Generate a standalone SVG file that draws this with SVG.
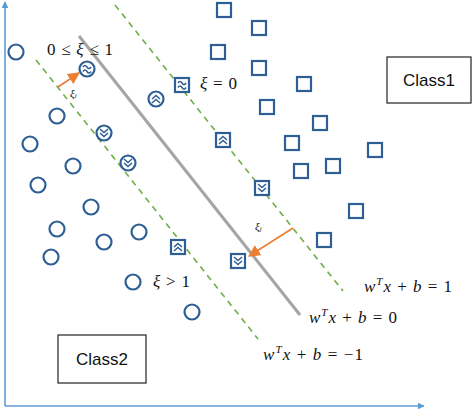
<svg xmlns="http://www.w3.org/2000/svg" width="474" height="413" viewBox="0 0 474 413">
<defs>
<style>
.circ{fill:#fff;stroke:#2e5f94;stroke-width:2.2}
.sq{fill:#fff;stroke:#2e5f94;stroke-width:2.2}
.hs{fill:#fff;stroke:#2e5f94;stroke-width:2.2}
.ch{fill:none;stroke:#2e5f94;stroke-width:1.5}
.math{font-family:"Liberation Serif","DejaVu Serif",serif;font-size:17px;fill:#111}
.it{font-style:italic}
.cls{font-family:"Liberation Sans",Arial,sans-serif;font-size:17px;fill:#111;text-anchor:middle}
.box{fill:#fff;stroke:#222;stroke-width:1.2}
.dash{stroke:#70ad47;stroke-width:1.6;stroke-dasharray:6 5;fill:none}
.axis{stroke:#5b9bd5;stroke-width:1.6;fill:none}
.orange{stroke:#ed7d31;stroke-width:1.6;fill:none}
.small{font-family:"Liberation Serif","DejaVu Serif",serif;font-size:11px;fill:#111;font-style:italic}
</style>
<marker id="ax" viewBox="0 0 10 10" refX="9" refY="5" markerWidth="7" markerHeight="7" markerUnits="userSpaceOnUse" orient="auto"><path d="M0,0 L10,5 L0,10 z" fill="#5b9bd5"/></marker>
<marker id="or" viewBox="0 0 10 10" refX="9" refY="5" markerWidth="12" markerHeight="12" markerUnits="userSpaceOnUse" orient="auto"><path d="M0,0 L10,5 L0,10 z" fill="#ed7d31"/></marker>
<g id="cup"><path class="ch" d="M-4,0 L0,-3.5 L4,0 M-4,4 L0,0.5 L4,4"/></g>
<g id="cdn"><path class="ch" d="M-4,-4 L0,-0.5 L4,-4 M-4,0 L0,3.5 L4,0"/></g>
<g id="wav"><path class="ch" d="M-4,-2 Q-2,-5 0,-2 T4,-2 M-4,2.5 Q-2,-0.5 0,2.5 T4,2.5"/></g>
</defs>

<g id="axes">
<line class="axis" x1="5" y1="406" x2="5" y2="2" marker-end="url(#ax)"/>
<line class="axis" x1="5" y1="406" x2="424" y2="406" marker-end="url(#ax)"/>
</g>

<g id="connectors">
<line x1="79" y1="36" x2="300" y2="315" stroke="#a5a5a5" stroke-width="3"/>
<line class="dash" x1="115" y1="5" x2="343" y2="291"/>
<line class="dash" x1="36" y1="60" x2="258" y2="339"/>
<line class="orange" x1="58" y1="87" x2="79" y2="73" marker-end="url(#or)"/>
<line class="orange" x1="293" y1="228" x2="249" y2="256" marker-end="url(#or)"/>
</g>

<g id="class2-points">
<circle class="circ" cx="16" cy="52" r="7.5"/>
<circle class="circ" cx="57" cy="116" r="7.5"/>
<circle class="circ" cx="30" cy="144" r="7.5"/>
<circle class="circ" cx="73" cy="166" r="7.5"/>
<circle class="circ" cx="38" cy="185" r="7.5"/>
<circle class="circ" cx="91" cy="207" r="7.5"/>
<circle class="circ" cx="57" cy="229" r="7.5"/>
<circle class="circ" cx="139" cy="232" r="7.5"/>
<circle class="circ" cx="104" cy="242" r="7.5"/>
<circle class="circ" cx="51" cy="257" r="7.5"/>
<circle class="circ" cx="133" cy="282" r="7.5"/>
<circle class="circ" cx="192" cy="312" r="7.5"/>
</g>

<g id="class2-support">
<g transform="translate(87,69)"><circle class="hs" r="7.5"/><use href="#wav"/></g>
<g transform="translate(156,99)"><circle class="hs" r="7.5"/><use href="#cup"/></g>
<g transform="translate(104,133)"><circle class="hs" r="7.5"/><use href="#cdn"/></g>
<g transform="translate(128,163)"><circle class="hs" r="7.5"/><use href="#cdn"/></g>
</g>

<g id="class1-points">
<rect class="sq" x="217" y="3" width="14" height="14"/>
<rect class="sq" x="252" y="21" width="14" height="14"/>
<rect class="sq" x="211" y="45" width="14" height="14"/>
<rect class="sq" x="252" y="61" width="14" height="14"/>
<rect class="sq" x="297" y="77" width="14" height="14"/>
<rect class="sq" x="260" y="100" width="14" height="14"/>
<rect class="sq" x="313" y="116" width="14" height="14"/>
<rect class="sq" x="285" y="136" width="14" height="14"/>
<rect class="sq" x="368" y="143" width="14" height="14"/>
<rect class="sq" x="294" y="164" width="14" height="14"/>
<rect class="sq" x="326" y="159" width="14" height="14"/>
<rect class="sq" x="349" y="204" width="14" height="14"/>
<rect class="sq" x="317" y="233" width="14" height="14"/>
</g>

<g id="class1-support">
<g transform="translate(182,85)"><rect class="hs" x="-7" y="-7" width="14" height="14"/><use href="#wav"/></g>
<g transform="translate(223,140)"><rect class="hs" x="-7" y="-7" width="14" height="14"/><use href="#cup"/></g>
<g transform="translate(262,188)"><rect class="hs" x="-7" y="-7" width="14" height="14"/><use href="#cdn"/></g>
<g transform="translate(178,247)"><rect class="hs" x="-7" y="-7" width="14" height="14"/><use href="#cup"/></g>
<g transform="translate(238,261)"><rect class="hs" x="-7" y="-7" width="14" height="14"/><use href="#cdn"/></g>
</g>

<g id="class1-box">
<rect class="box" x="387" y="57" width="84" height="46"/>
<text class="cls" x="429" y="86">Class1</text>
</g>
<g id="class2-box">
<rect class="box" x="58" y="335" width="88" height="48"/>
<text class="cls" x="102" y="365">Class2</text>
</g>

<g id="labels">
<text class="math" x="47" y="55" textLength="66" lengthAdjust="spacing">0 ≤ <tspan class="it">ξ</tspan> ≤ 1</text>
<text class="math" x="200" y="89" textLength="37" lengthAdjust="spacing"><tspan class="it">ξ</tspan> = 0</text>
<text class="math" x="153" y="287" textLength="37" lengthAdjust="spacing"><tspan class="it">ξ</tspan> &gt; 1</text>
<text class="small" x="70" y="97">ξ<tspan font-size="7" dy="1">i</tspan></text>
<text class="small" x="255" y="230">ξ<tspan font-size="7" dy="1">j</tspan></text>
<text class="math" x="364" y="292" textLength="88" lengthAdjust="spacing"><tspan class="it">w</tspan><tspan class="it" font-size="11" dy="-7">T</tspan><tspan class="it" dy="7">x</tspan> + <tspan class="it">b</tspan> = 1</text>
<text class="math" x="309" y="323" textLength="88" lengthAdjust="spacing"><tspan class="it">w</tspan><tspan class="it" font-size="11" dy="-7">T</tspan><tspan class="it" dy="7">x</tspan> + <tspan class="it">b</tspan> = 0</text>
<text class="math" x="263" y="360" textLength="100" lengthAdjust="spacing"><tspan class="it">w</tspan><tspan class="it" font-size="11" dy="-7">T</tspan><tspan class="it" dy="7">x</tspan> + <tspan class="it">b</tspan> = −1</text>
</g>
</svg>
